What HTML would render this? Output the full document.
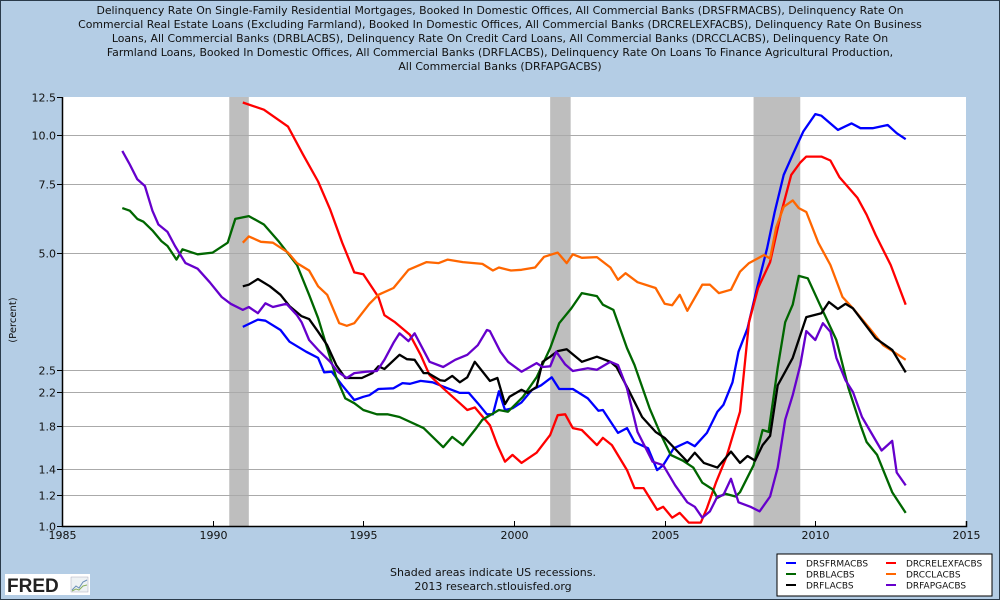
<!DOCTYPE html>
<html><head><meta charset="utf-8"><style>
html,body{margin:0;padding:0;}
body{width:1000px;height:600px;background:#b4cde5;overflow:hidden;position:relative;font-family:"DejaVu Sans","Liberation Sans",sans-serif;}
#frame{position:absolute;left:0;top:0;width:998px;height:598px;border:1px solid #2a3a4a;}
#title{position:absolute;left:0;top:4px;width:1000px;text-align:center;font-size:10.9px;line-height:14px;color:#111;}
svg{position:absolute;left:0;top:0;}
</style></head><body>
<div id="frame"></div>
<div id="title">Delinquency Rate On Single-Family Residential Mortgages, Booked In Domestic Offices, All Commercial Banks (DRSFRMACBS), Delinquency Rate On<br>Commercial Real Estate Loans (Excluding Farmland), Booked In Domestic Offices, All Commercial Banks (DRCRELEXFACBS), Delinquency Rate On Business<br>Loans, All Commercial Banks (DRBLACBS), Delinquency Rate On Credit Card Loans, All Commercial Banks (DRCCLACBS), Delinquency Rate On<br>Farmland Loans, Booked In Domestic Offices, All Commercial Banks (DRFLACBS), Delinquency Rate On Loans To Finance Agricultural Production,<br>All Commercial Banks (DRFAPGACBS)</div>
<svg id="chart" width="1000" height="600"></svg>
<script>
const yTicks=[1.0,1.2,1.4,1.8,2.2,2.5,5.0,7.5,10.0,12.5];
const xTicks=[1985,1990,1995,2000,2005,2010,2015];
const recessions=[[1990.55,1991.2],[2001.2,2001.88],[2007.95,2009.5]];
const seriesNames=["DRSFRMACBS","DRCRELEXFACBS","DRBLACBS","DRCCLACBS","DRFLACBS","DRFAPGACBS"];
const seriesColors=["#0000ff","#ff0000","#006600","#ff6600","#000000","#6600cc"];
const blueX=[1991.0,1991.5,1991.75,1992.25,1992.55,1993.1,1993.5,1993.7,1993.95,1994.3,1994.7,1995.0,1995.2,1995.5,1996.0,1996.3,1996.55,1996.9,1997.3,1997.8,1998.2,1998.5,1998.8,1999.1,1999.3,1999.5,1999.7,1999.95,2000.25,2000.6,2000.9,2001.25,2001.5,2001.95,2002.45,2002.8,2002.95,2003.45,2003.75,2004.0,2004.45,2004.75,2004.95,2005.3,2005.75,2006.0,2006.4,2006.75,2006.95,2007.25,2007.45,2007.75,2008.05,2008.4,2008.65,2008.95,2009.25,2009.6,2010.0,2010.2,2010.75,2011.2,2011.5,2011.9,2012.4,2012.7,2013.0];
const blueY=[3.23,3.37,3.35,3.17,2.96,2.79,2.69,2.47,2.48,2.29,2.10,2.14,2.16,2.24,2.25,2.32,2.31,2.35,2.33,2.25,2.19,2.19,2.06,1.93,1.93,2.21,1.98,2.0,2.07,2.23,2.29,2.40,2.24,2.24,2.12,1.97,1.98,1.73,1.78,1.64,1.58,1.39,1.43,1.58,1.64,1.60,1.73,1.96,2.04,2.33,2.79,3.2,4.02,5.13,6.35,7.9,8.9,10.2,11.3,11.2,10.3,10.7,10.4,10.4,10.6,10.1,9.75];
const redX=[1991.0,1991.7,1992.5,1993.0,1993.5,1993.9,1994.3,1994.7,1995.0,1995.5,1995.7,1996.05,1996.55,1996.9,1997.2,1997.65,1998.2,1998.45,1998.7,1999.2,1999.45,1999.7,1999.95,2000.25,2000.75,2001.2,2001.45,2001.7,2001.95,2002.25,2002.75,2002.95,2003.25,2003.75,2004.0,2004.3,2004.75,2004.95,2005.25,2005.5,2005.8,2006.2,2006.4,2006.7,2007.05,2007.5,2007.8,2008.1,2008.5,2008.85,2009.2,2009.5,2009.7,2010.2,2010.5,2010.8,2011.4,2011.7,2012.0,2012.5,2013.0];
const redY=[12.1,11.6,10.5,8.9,7.6,6.44,5.3,4.45,4.4,3.85,3.46,3.32,3.08,2.74,2.43,2.25,2.06,1.98,2.01,1.81,1.61,1.46,1.52,1.45,1.54,1.71,1.92,1.93,1.78,1.76,1.61,1.68,1.61,1.39,1.25,1.25,1.10,1.12,1.05,1.08,1.02,1.02,1.11,1.29,1.50,1.96,3.32,4.06,4.73,6.25,7.9,8.5,8.8,8.8,8.6,7.8,6.9,6.25,5.55,4.65,3.68];
const greenX=[1987.0,1987.25,1987.5,1987.7,1988.0,1988.3,1988.5,1988.8,1989.0,1989.5,1990.0,1990.5,1990.75,1991.2,1991.7,1992.2,1992.8,1993.2,1993.5,1993.8,1994.1,1994.4,1994.7,1995.0,1995.45,1995.8,1996.2,1997.0,1997.65,1997.95,1998.3,1998.75,1998.95,1999.5,1999.8,2000.3,2000.75,2001.2,2001.5,2001.9,2002.25,2002.75,2002.95,2003.3,2003.75,2004.0,2004.5,2004.85,2005.2,2005.6,2005.95,2006.25,2006.6,2006.75,2007.0,2007.35,2007.5,2007.95,2008.25,2008.45,2008.75,2009.0,2009.25,2009.45,2009.75,2010.15,2010.7,2011.1,2011.5,2011.7,2012.05,2012.55,2013.0];
const greenY=[6.5,6.4,6.1,6.0,5.7,5.35,5.2,4.8,5.1,4.95,5.0,5.3,6.1,6.2,5.9,5.33,4.65,3.9,3.4,2.85,2.4,2.12,2.06,1.98,1.93,1.93,1.90,1.78,1.59,1.69,1.61,1.78,1.87,1.98,1.96,2.14,2.4,2.85,3.3,3.6,3.94,3.87,3.68,3.57,2.85,2.58,2.0,1.73,1.52,1.47,1.41,1.29,1.24,1.18,1.21,1.19,1.22,1.43,1.76,1.74,2.54,3.32,3.68,4.36,4.3,3.68,2.99,2.25,1.81,1.64,1.52,1.22,1.08];
const orangeX=[1991.0,1991.2,1991.6,1992.0,1992.5,1992.8,1993.2,1993.5,1993.8,1994.2,1994.45,1994.7,1995.2,1995.5,1996.0,1996.5,1997.1,1997.5,1997.8,1998.3,1998.95,1999.3,1999.5,1999.9,2000.25,2000.7,2001.0,2001.45,2001.75,2001.95,2002.25,2002.75,2003.2,2003.45,2003.7,2004.1,2004.7,2005.0,2005.25,2005.5,2005.75,2006.25,2006.5,2006.8,2007.2,2007.5,2007.8,2008.3,2008.5,2008.7,2008.95,2009.25,2009.45,2009.7,2010.1,2010.5,2010.9,2011.25,2011.8,2012.25,2012.5,2013.0];
const orangeY=[5.3,5.5,5.33,5.3,5.0,4.7,4.5,4.1,3.9,3.3,3.25,3.3,3.7,3.9,4.06,4.52,4.73,4.7,4.8,4.73,4.68,4.5,4.58,4.5,4.52,4.58,4.88,5.0,4.7,4.95,4.85,4.87,4.58,4.26,4.43,4.2,4.06,3.7,3.67,3.9,3.55,4.14,4.14,3.94,4.02,4.47,4.7,4.93,4.83,5.8,6.55,6.8,6.5,6.35,5.3,4.65,3.85,3.6,3.2,2.9,2.82,2.66];
const blackX=[1991.0,1991.2,1991.5,1991.9,1992.25,1992.55,1992.95,1993.2,1993.5,1993.8,1994.1,1994.4,1994.95,1995.3,1995.5,1995.7,1996.2,1996.45,1996.7,1997.0,1997.15,1997.55,1997.7,1997.95,1998.2,1998.45,1998.7,1999.2,1999.45,1999.7,1999.85,2000.25,2000.45,2000.75,2000.95,2001.2,2001.45,2001.75,2002.25,2002.75,2003.2,2003.4,2003.8,2004.25,2004.7,2005.0,2005.4,2005.75,2006.0,2006.3,2006.75,2007.2,2007.5,2007.75,2008.0,2008.25,2008.5,2008.75,2009.0,2009.25,2009.7,2010.2,2010.45,2010.75,2011.0,2011.25,2012.0,2012.55,2013.0];
const blackY=[4.1,4.14,4.28,4.1,3.9,3.65,3.44,3.38,3.14,2.90,2.58,2.39,2.39,2.46,2.56,2.52,2.74,2.67,2.66,2.46,2.46,2.36,2.35,2.42,2.33,2.4,2.63,2.35,2.39,2.05,2.14,2.23,2.19,2.27,2.63,2.71,2.80,2.83,2.63,2.71,2.63,2.55,2.23,1.90,1.74,1.68,1.56,1.46,1.54,1.45,1.41,1.55,1.45,1.51,1.47,1.61,1.70,2.29,2.48,2.69,3.42,3.50,3.74,3.59,3.70,3.60,3.02,2.82,2.47];
const purpleX=[1987.0,1987.25,1987.5,1987.75,1988.0,1988.2,1988.5,1988.75,1989.1,1989.5,1989.9,1990.3,1990.6,1991.0,1991.2,1991.5,1991.75,1992.0,1992.45,1992.8,1992.95,1993.2,1993.5,1993.9,1994.15,1994.45,1994.7,1995.1,1995.45,1995.7,1996.0,1996.2,1996.5,1996.7,1997.2,1997.65,1998.05,1998.45,1998.8,1999.1,1999.2,1999.55,1999.8,2000.25,2000.75,2000.95,2001.2,2001.4,2001.7,2001.95,2002.45,2002.75,2003.2,2003.45,2003.75,2004.1,2004.6,2004.95,2005.35,2005.75,2006.0,2006.25,2006.5,2006.75,2006.95,2007.2,2007.45,2007.85,2008.15,2008.5,2008.75,2009.0,2009.25,2009.5,2009.7,2010.0,2010.25,2010.5,2010.7,2011.0,2011.25,2011.55,2011.8,2012.2,2012.55,2012.7,2013.0];
const purpleY=[9.1,8.4,7.7,7.4,6.4,5.9,5.65,5.2,4.7,4.55,4.2,3.85,3.7,3.57,3.63,3.5,3.71,3.63,3.7,3.46,3.32,2.99,2.82,2.63,2.48,2.39,2.46,2.48,2.49,2.66,2.94,3.11,2.97,3.11,2.63,2.55,2.66,2.74,2.90,3.17,3.15,2.79,2.63,2.48,2.61,2.55,2.56,2.79,2.59,2.49,2.53,2.51,2.63,2.58,2.25,1.74,1.46,1.43,1.27,1.15,1.12,1.05,1.09,1.19,1.20,1.32,1.15,1.12,1.09,1.19,1.41,1.87,2.16,2.58,3.15,2.99,3.3,3.14,2.69,2.36,2.2,1.90,1.76,1.56,1.65,1.37,1.27];
const allX=[blueX,redX,greenX,orangeX,blackX,purpleX];
const allY=[blueY,redY,greenY,orangeY,blackY,purpleY];

const L=62,R=966,T=97,B=526;
const X0=1985,X1=2015,YMIN=1.0,YMAX=12.5;
function sx(v){return L+(v-X0)/(X1-X0)*(R-L);}
function sy(v){return B-(Math.log(v)-Math.log(YMIN))/(Math.log(YMAX)-Math.log(YMIN))*(B-T);}
const NS="http://www.w3.org/2000/svg";
const svg=document.getElementById('chart');
function mk(tag,attrs,parent){const e=document.createElementNS(NS,tag);for(const k in attrs)e.setAttribute(k,attrs[k]);(parent||svg).appendChild(e);return e;}

const plot=mk('rect',{x:L,y:T,width:R-L,height:B-T,fill:'#ffffff'});


recessions.forEach(r=>{
  const e=mk('rect',{x:sx(r[0]),y:T,width:sx(r[1])-sx(r[0]),height:B-T,fill:'#bebebe'});
  
  
});
yTicks.forEach(t=>{
  const y=Math.round(sy(t))+0.5;
  if(t>YMIN&&t<YMAX){const g=mk('line',{x1:L,x2:R,y1:y,y2:y,stroke:'#aaaaaa','stroke-width':1});
  
  }
  mk('line',{x1:L-5,x2:L,y1:y,y2:y,stroke:'#000','stroke-width':1});
  const tx=mk('text',{x:L-6,y:y+4,'text-anchor':'end','font-size':'11','font-family':'DejaVu Sans, Liberation Sans, sans-serif',fill:'#111'});
  tx.textContent=t.toFixed(1);
  
  
});
xTicks.forEach(t=>{
  const x=Math.round(sx(t))+0.5;
  mk('line',{x1:x,x2:x,y1:B-5,y2:B,stroke:'#000','stroke-width':1});
  const tx=mk('text',{x:x,y:B+13,'text-anchor':'middle','font-size':'11','font-family':'DejaVu Sans, Liberation Sans, sans-serif',fill:'#111'});
  tx.textContent=t;
  
  
});
mk('path',{d:`M${L+0.5} ${T} V${B+0.5} H${R+0.5} V${B-5}`,fill:'none',stroke:'#000','stroke-width':1.5});
allX.forEach((xs,i)=>{
  const d=xs.map((x,j)=>(j?'L':'M')+sx(x).toFixed(1)+' '+sy(allY[i][j]).toFixed(1)).join(' ');
  const p=mk('path',{d:d,fill:'none',stroke:seriesColors[i],'stroke-width':2.3,'stroke-linejoin':'round'});
  
  
});
const yl=mk('text',{x:0,y:0,transform:'translate(16,320) rotate(-90)','text-anchor':'middle','font-size':'10','font-family':'DejaVu Sans, Liberation Sans, sans-serif',fill:'#111'});
yl.textContent='(Percent)';



const lg=mk('g',{});


mk('rect',{x:777,y:554,width:215,height:42,fill:'#ffffff',stroke:'#000','stroke-width':1},lg);
seriesNames.forEach((n,i)=>{
  const col=i%2,row=Math.floor(i/2);
  const bx=786+col*100,by=563+row*11;
  mk('line',{x1:bx,x2:bx+10,y1:by,y2:by,stroke:seriesColors[i],'stroke-width':2},lg);
  const t=mk('text',{x:bx+20,y:by+3.5,'font-size':'9','font-family':'DejaVu Sans, Liberation Sans, sans-serif',fill:'#111'},lg);
  t.textContent=n;
  
  
});
const f1=mk('text',{x:493,y:576,'text-anchor':'middle','font-size':'11','font-family':'DejaVu Sans, Liberation Sans, sans-serif',fill:'#111'});
f1.textContent='Shaded areas indicate US recessions.';


const f2=mk('text',{x:493,y:590,'text-anchor':'middle','font-size':'11','font-family':'DejaVu Sans, Liberation Sans, sans-serif',fill:'#111'});
f2.textContent='2013 research.stlouisfed.org';


const logo=mk('g',{});


mk('rect',{x:5,y:574,width:85,height:21,fill:'#ffffff'},logo);
const lt=mk('text',{x:7,y:592,'font-size':'19','font-weight':'bold','font-family':'Liberation Sans, sans-serif',fill:'#222'},logo);
lt.textContent='FRED';
mk('rect',{x:71,y:577,width:17,height:15,fill:'#eef2f4',stroke:'#aab',"stroke-width":0.5},logo);
mk('polyline',{points:'72,590 76,586 79,588 83,582 87,580',fill:'none',stroke:'#6b8fb8','stroke-width':1},logo);
mk('polyline',{points:'72,591 76,589 79,590 83,586 87,585',fill:'none',stroke:'#8bb060','stroke-width':1},logo);
</script>
</body></html>
